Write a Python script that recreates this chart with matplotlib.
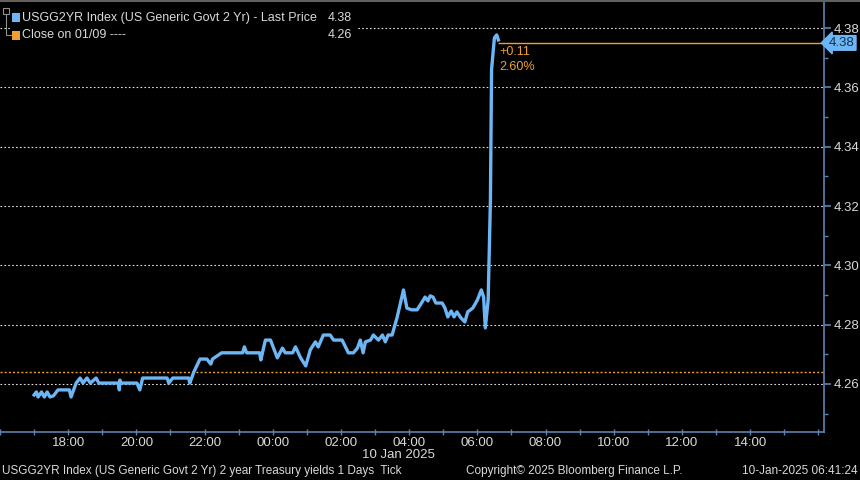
import matplotlib
matplotlib.use("Agg")
import matplotlib.pyplot as plt
import matplotlib.dates as mdates
from matplotlib.patches import Rectangle
from matplotlib.lines import Line2D
import pandas as pd

plt.rcParams['font.family'] = ['Liberation Sans', 'DejaVu Sans']

# tick data (time of day, yield)
times = ["17:00", "17:04", "17:07", "17:13", "17:18", "17:23", "17:28", "17:34", "17:42",
         "18:02", "18:05", "18:14", "18:21", "18:26", "18:33", "18:39", "18:49", "18:54",
         "19:28", "19:30", "19:31", "19:33", "20:01", "20:06", "20:11", "20:54", "20:57",
         "21:04", "21:32", "21:34", "21:41", "21:52", "22:04", "22:11", "22:14", "22:30",
         "23:07", "23:10", "23:14", "23:37", "23:39", "23:47", "23:56",
         "00:08", "00:17", "00:22", "00:35", "00:40", "00:49", "00:58", "01:06", "01:15",
         "01:20", "01:29", "01:41", "01:47", "02:02", "02:13", "02:22", "02:29", "02:34",
         "02:39", "02:43", "02:52", "02:57", "03:06", "03:13", "03:18", "03:23", "03:30",
         "03:39", "03:50", "03:56", "04:04", "04:14", "04:23", "04:28", "04:33", "04:37",
         "04:42", "04:47", "04:58", "05:03", "05:08", "05:14", "05:19", "05:24", "05:31",
         "05:38", "05:43", "05:52", "06:00", "06:07", "06:11", "06:14", "06:19", "06:23",
         "06:25", "06:30", "06:34", "06:37"]
yields = [4.2563, 4.2573, 4.2556, 4.2573, 4.2556, 4.2573, 4.2556, 4.2560, 4.2580,
          4.2580, 4.2556, 4.2603, 4.2620, 4.2603, 4.2620, 4.2603, 4.2620, 4.2603,
          4.2603, 4.2580, 4.2613, 4.2603, 4.2603, 4.2580, 4.2620, 4.2620, 4.2603,
          4.2620, 4.2620, 4.2603, 4.2640, 4.2684, 4.2684, 4.2667, 4.2684, 4.2705,
          4.2705, 4.2725, 4.2705, 4.2705, 4.2681, 4.2748, 4.2748,
          4.2688, 4.2721, 4.2705, 4.2705, 4.2725, 4.2688, 4.2661, 4.2715, 4.2742,
          4.2725, 4.2765, 4.2765, 4.2748, 4.2748, 4.2705, 4.2705, 4.2721, 4.2748,
          4.2705, 4.2742, 4.2748, 4.2765, 4.2748, 4.2765, 4.2742, 4.2765, 4.2765,
          4.2826, 4.2917, 4.2856, 4.2850, 4.2850, 4.2877, 4.2893, 4.2880, 4.2897,
          4.2893, 4.2873, 4.2873, 4.2856, 4.2826, 4.2846, 4.2826, 4.2843, 4.2823,
          4.2809, 4.2843, 4.2856, 4.2883, 4.2917, 4.2893, 4.2789, 4.2883, 4.3220,
          4.3660, 4.3767, 4.3777, 4.3760]
prev_close = 4.264
last_price = 4.375
change_txt = "+0.11"
pct_txt = "2.60%"
y_ticks = [4.26, 4.28, 4.30, 4.32, 4.34, 4.36, 4.38]
x_tick_labels = ["18:00", "20:00", "22:00", "00:00", "02:00", "04:00", "06:00",
                 "08:00", "10:00", "12:00", "14:00"]

# afternoon/evening hours belong to Jan 9, the rest to Jan 10
def stamp(t):
    day = "2025-01-09 " if int(t[:2]) >= 16 else "2025-01-10 "
    return pd.Timestamp(day + t)

stamps = [stamp(t) for t in times]
x_ticks = [stamp(t) for t in x_tick_labels]

BG = "black"
BLUE = "#6cb6f5"
ORANGE = "#f0a030"
AXIS = "#5b84b1"
TXT = "#d9d9d9"

fig = plt.figure(figsize=(8.6, 4.8), dpi=100, facecolor=BG)
ax = fig.add_axes([0, 48 / 480, 824 / 860, 430 / 480])
ax.set_facecolor(BG)

ax.plot(stamps, yields, color=BLUE, lw=2.4, solid_joinstyle='round', zorder=4)

# gridlines and close line
for v in y_ticks:
    ax.axhline(v, color="#e0e0e0", lw=0.8, ls=(0, (1.5, 2)), zorder=1)
ax.axhline(prev_close, color=ORANGE, lw=1.0, ls=(0, (1.5, 1.5)), zorder=2)
ax.hlines(last_price, stamps[-1], pd.Timestamp("2025-01-10 16:10"), color=ORANGE, lw=1.0, zorder=3)

ax.set_xlim(pd.Timestamp("2025-01-09 16:00"), pd.Timestamp("2025-01-10 16:10"))
ax.set_ylim(4.2438, 4.3888)

ax.yaxis.tick_right()
ax.set_yticks(y_ticks)
ax.set_yticklabels([f"{v:.2f}" for v in y_ticks])
ax.set_yticks([v + 0.01 for v in y_ticks[:-1]] + [4.25], minor=True)
ax.tick_params(axis='y', which='major', colors=AXIS, labelcolor=TXT, labelsize=9.5, length=5, width=1.2, pad=2)
ax.tick_params(axis='y', which='minor', colors=AXIS, length=3, width=1)

ax.set_xticks(x_ticks)
ax.set_xticklabels(x_tick_labels)
ax.xaxis.set_minor_locator(mdates.HourLocator())
ax.tick_params(axis='x', which='both', colors=AXIS, labelcolor=TXT, labelsize=9.5, direction='inout', length=5, width=1)
ax.tick_params(axis='x', which='major', pad=1)

for s in ['left', 'top']:
    ax.spines[s].set_visible(False)
for s in ['right', 'bottom']:
    ax.spines[s].set_color(AXIS)
    ax.spines[s].set_linewidth(1.2)

# change annotation
ax.text(stamps[-1] + pd.Timedelta(minutes=2), last_price - 0.0012, change_txt, color=ORANGE,
        fontsize=9, va='top', ha='left')
ax.text(stamps[-1] + pd.Timedelta(minutes=2), last_price - 0.0062, pct_txt, color=ORANGE,
        fontsize=9, va='top', ha='left')

# last price tag on the axis
ax.text(1.006, last_price, f"{last_price:.2f}", transform=ax.get_yaxis_transform(),
        color="#10304f", fontsize=9.5, va='center', ha='left', zorder=6, clip_on=False,
        bbox=dict(boxstyle='larrow,pad=0.1', fc=BLUE, ec=BLUE))

# legend block, top left
W, H = 860, 480
fig.add_artist(Rectangle((12 / W, 1 - 46 / H), 346 / W, 42 / H, transform=fig.transFigure,
                         fc=BG, ec='none', zorder=5))
fig.add_artist(Rectangle((3 / W, 1 - 14 / H), 6 / W, 6 / H, transform=fig.transFigure,
                         fc='none', ec='#909090', lw=0.8, zorder=6))
fig.add_artist(Line2D([6 / W, 6 / W, 11 / W], [1 - 14 / H, 1 - 35 / H, 1 - 35 / H],
                      transform=fig.transFigure, color='#909090', lw=0.8, zorder=6))
fig.add_artist(Rectangle((12 / W, 1 - 22 / H), 8 / W, 9 / H, transform=fig.transFigure,
                         fc=BLUE, ec='none', zorder=6))
fig.add_artist(Rectangle((12 / W, 1 - 40 / H), 8 / W, 9 / H, transform=fig.transFigure,
                         fc=ORANGE, ec='none', zorder=6))
fig.text(22 / W, 1 - 18 / H, "USGG2YR Index (US Generic Govt 2 Yr) - Last Price", color=TXT,
         fontsize=9, va='center', ha='left', zorder=7)
fig.text(352 / W, 1 - 18 / H, f"{last_price:.2f}", color=TXT, fontsize=9, va='center', ha='right', zorder=7)
fig.text(22 / W, 1 - 35 / H, "Close on 01/09 ----", color=TXT, fontsize=9, va='center', ha='left', zorder=7)
fig.text(352 / W, 1 - 35 / H, f"{prev_close:.2f}", color=TXT, fontsize=9, va='center', ha='right', zorder=7)

# top border and date / footer
fig.add_artist(Line2D([0, 1], [1 - 1 / H, 1 - 1 / H], transform=fig.transFigure, color='#606060', lw=1.5))
fig.text(398 / W, 1 - 455 / H, "10 Jan 2025", color=TXT, fontsize=9.5, ha='center', va='center')
fig.text(2 / W, 1 - 471 / H, "USGG2YR Index (US Generic Govt 2 Yr) 2 year Treasury yields 1 Days  Tick",
         color=TXT, fontsize=8.5, ha='left', va='center')
fig.text(466 / W, 1 - 471 / H, "Copyright\u00a9 2025 Bloomberg Finance L.P.", color=TXT, fontsize=8.5,
         ha='left', va='center')
fig.text(858 / W, 1 - 471 / H, "10-Jan-2025 06:41:24", color=TXT, fontsize=8.5, ha='right', va='center')

fig.savefig("out.png", dpi=100, facecolor=BG)
